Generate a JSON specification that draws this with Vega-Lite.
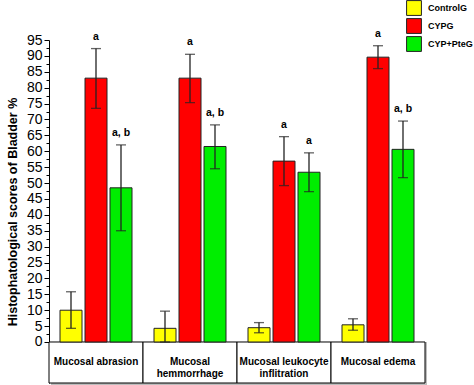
{
  "$schema": "https://vega.github.io/schema/vega-lite/v6.json",
  "width": 376,
  "height": 343,
  "autosize": "none",
  "padding": {"left": 49, "top": 40, "right": 49, "bottom": 2},
  "background": "white",
  "config": {"view": {"stroke": null}, "font": "Liberation Sans"},
  "datasets": {
    "bars": [
      {"cat": "abrasion", "group": "ControlG", "value": 10.0, "low": 4.3, "high": 15.8, "sig": ""},
      {"cat": "abrasion", "group": "CYPG", "value": 83.0, "low": 73.5, "high": 92.3, "sig": "a"},
      {"cat": "abrasion", "group": "CYP+PteG", "value": 48.5, "low": 35.0, "high": 62.0, "sig": "a, b"},
      {"cat": "hemorrhage", "group": "ControlG", "value": 4.3, "low": 0, "high": 9.7, "sig": ""},
      {"cat": "hemorrhage", "group": "CYPG", "value": 83.0, "low": 75.3, "high": 90.5, "sig": "a"},
      {"cat": "hemorrhage", "group": "CYP+PteG", "value": 61.5, "low": 54.5, "high": 68.3, "sig": "a, b"},
      {"cat": "leukocyte", "group": "ControlG", "value": 4.5, "low": 2.9, "high": 6.1, "sig": ""},
      {"cat": "leukocyte", "group": "CYPG", "value": 56.9, "low": 49.2, "high": 64.6, "sig": "a"},
      {"cat": "leukocyte", "group": "CYP+PteG", "value": 53.4, "low": 47.3, "high": 59.5, "sig": "a"},
      {"cat": "edema", "group": "ControlG", "value": 5.4, "low": 3.7, "high": 7.3, "sig": ""},
      {"cat": "edema", "group": "CYPG", "value": 89.6, "low": 86.0, "high": 93.2, "sig": "a"},
      {"cat": "edema", "group": "CYP+PteG", "value": 60.6, "low": 51.7, "high": 69.5, "sig": "a, b"}
    ],
    "cats": [
      {"cat": "abrasion", "label": "Mucosal abrasion"},
      {"cat": "hemorrhage", "label": "Mucosal\nhemmorrhage"},
      {"cat": "leukocyte", "label": "Mucosal leukocyte\ninflitration"},
      {"cat": "edema", "label": "Mucosal edema"}
    ]
  },
  "layer": [
    {
      "data": {"name": "cats"},
      "mark": {"type": "rect", "fill": "#bdbdbd", "xOffset": 2, "yOffset": 2, "clip": false},
      "encoding": {
        "x": {"field": "cat", "type": "nominal", "sort": ["abrasion", "hemorrhage", "leukocyte", "edema"], "scale": {"paddingInner": 0, "paddingOuter": 0}, "axis": null},
        "y": {"datum": -12.9, "type": "quantitative", "scale": {"domain": [-12.9, 95], "nice": false, "zero": false}, "axis": null},
        "y2": {"datum": 0}
      }
    },
    {
      "data": {"name": "cats"},
      "mark": {"type": "rect", "fill": "white", "stroke": "black", "strokeWidth": 1},
      "encoding": {
        "x": {"field": "cat", "type": "nominal", "sort": ["abrasion", "hemorrhage", "leukocyte", "edema"], "axis": null},
        "y": {"datum": -12.9, "type": "quantitative",
          "axis": {"orient": "left", "values": [2.5, 7.5, 12.5, 17.5, 22.5, 27.5, 32.5, 37.5, 42.5, 47.5, 52.5, 57.5, 62.5, 67.5, 72.5, 77.5, 82.5, 87.5, 92.5], "labels": false, "domain": false, "grid": false, "tickSize": 3, "tickColor": "black", "title": null}},
        "y2": {"datum": 0}
      }
    },
    {
      "data": {"name": "cats"},
      "mark": {"type": "text", "fontWeight": "bold", "fontSize": 10, "lineBreak": "\n", "baseline": "middle", "align": "center", "color": "black"},
      "encoding": {
        "x": {"field": "cat", "type": "nominal", "sort": ["abrasion", "hemorrhage", "leukocyte", "edema"]},
        "y": {"datum": -6.45, "type": "quantitative", "axis": null},
        "text": {"field": "label"}
      }
    },
    {
      "data": {"name": "bars"},
      "mark": {"type": "bar", "stroke": "#222222", "strokeWidth": 1},
      "encoding": {
        "x": {"field": "cat", "type": "nominal", "sort": ["abrasion", "hemorrhage", "leukocyte", "edema"]},
        "xOffset": {"field": "group", "type": "nominal", "sort": ["ControlG", "CYPG", "CYP+PteG"], "scale": {"paddingInner": 0.12, "paddingOuter": 0.44}},
        "y": {"field": "value", "type": "quantitative",
          "axis": {"orient": "left", "values": [0, 5, 10, 15, 20, 25, 30, 35, 40, 45, 50, 55, 60, 65, 70, 75, 80, 85, 90, 95], "grid": false, "domainColor": "black", "tickColor": "black", "tickSize": 5, "labelFontSize": 14, "labelColor": "black", "labelPadding": 2, "labelFont": "Liberation Sans",
            "title": "Histophatological scores of Bladder %", "titleFontSize": 12.5, "titleFontWeight": "bold", "titleColor": "black", "titleX": -37, "titleY": 171.5, "titleAngle": -90, "titleBaseline": "middle", "titleAlign": "center"}},
        "y2": {"datum": 0},
        "fill": {"field": "group", "type": "nominal", "sort": ["ControlG", "CYPG", "CYP+PteG"],
          "scale": {"domain": ["ControlG", "CYPG", "CYP+PteG"], "range": ["#ffff00", "#ff0000", "#00ee00"]},
          "legend": {"orient": "none", "legendX": 357, "legendY": -40, "title": null, "symbolType": "square", "symbolSize": 220, "symbolStrokeColor": "#222222", "symbolStrokeWidth": 1, "symbolOpacity": 1, "labelFontSize": 9, "labelFontWeight": "bold", "labelColor": "black", "labelOffset": 6, "rowPadding": -4}}
      }
    },
    {
      "data": {"name": "bars"},
      "mark": {"type": "rule", "color": "#222222", "strokeWidth": 1.3},
      "encoding": {
        "x": {"field": "cat", "type": "nominal", "sort": ["abrasion", "hemorrhage", "leukocyte", "edema"]},
        "xOffset": {"field": "group", "type": "nominal", "sort": ["ControlG", "CYPG", "CYP+PteG"]},
        "y": {"field": "low", "type": "quantitative", "axis": null},
        "y2": {"field": "high"}
      }
    },
    {
      "data": {"name": "bars"},
      "mark": {"type": "tick", "color": "#222222", "thickness": 1.3, "size": 10},
      "encoding": {
        "x": {"field": "cat", "type": "nominal", "sort": ["abrasion", "hemorrhage", "leukocyte", "edema"]},
        "xOffset": {"field": "group", "type": "nominal", "sort": ["ControlG", "CYPG", "CYP+PteG"]},
        "y": {"field": "high", "type": "quantitative", "axis": null}
      }
    },
    {
      "data": {"name": "bars"},
      "mark": {"type": "tick", "color": "#222222", "thickness": 1.3, "size": 10},
      "encoding": {
        "x": {"field": "cat", "type": "nominal", "sort": ["abrasion", "hemorrhage", "leukocyte", "edema"]},
        "xOffset": {"field": "group", "type": "nominal", "sort": ["ControlG", "CYPG", "CYP+PteG"]},
        "y": {"field": "low", "type": "quantitative", "axis": null}
      }
    },
    {
      "data": {"name": "bars"},
      "mark": {"type": "text", "fontWeight": "bold", "fontSize": 10.5, "baseline": "alphabetic", "dy": -9, "color": "black"},
      "encoding": {
        "x": {"field": "cat", "type": "nominal", "sort": ["abrasion", "hemorrhage", "leukocyte", "edema"]},
        "xOffset": {"field": "group", "type": "nominal", "sort": ["ControlG", "CYPG", "CYP+PteG"]},
        "y": {"field": "high", "type": "quantitative", "axis": null},
        "text": {"field": "sig"}
      }
    }
  ],
  "resolve": {"axis": {"y": "independent"}}
}
